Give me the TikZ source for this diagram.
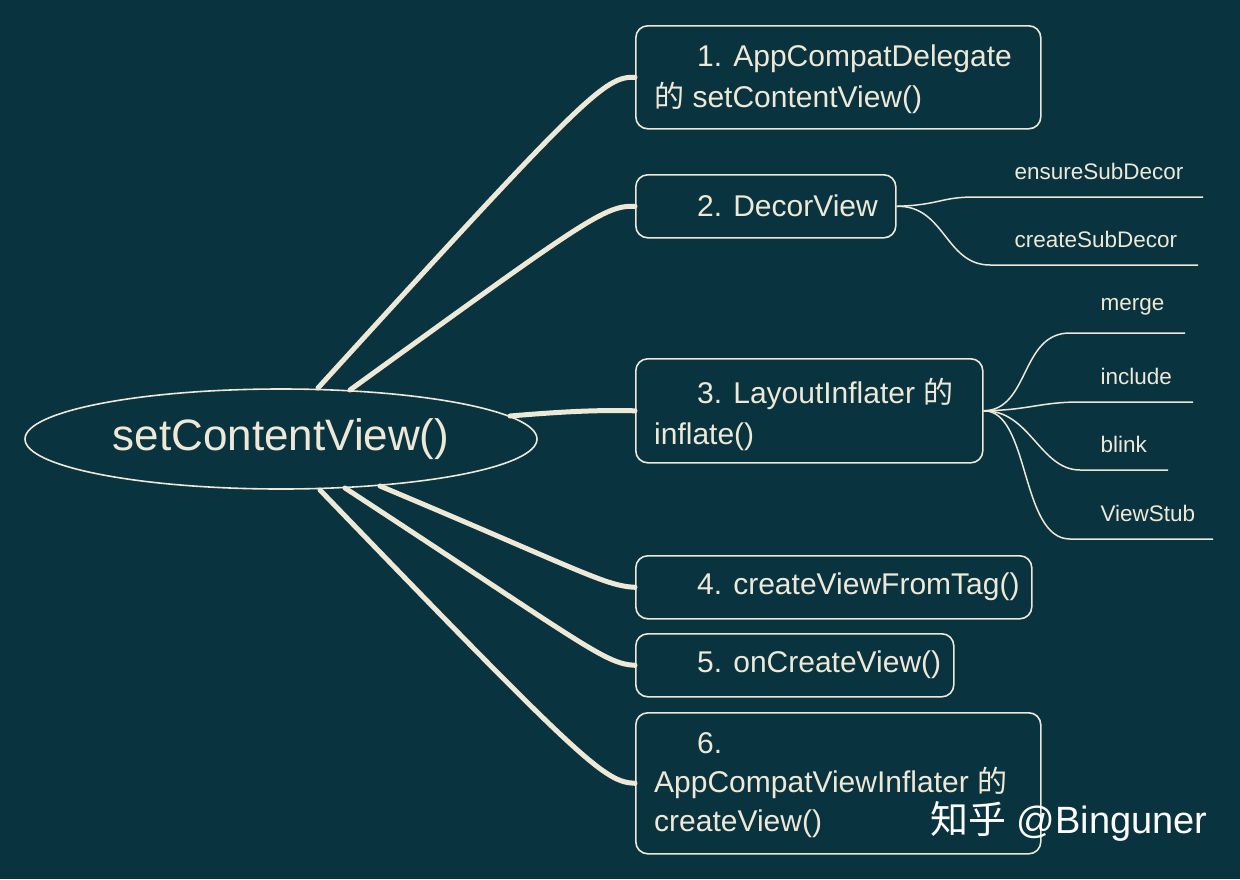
\documentclass[tikz,border=0pt]{standalone}
\usepackage{fontspec}
\setmainfont{Liberation Sans}
\newfontfamily\cjk{Noto Sans CJK SC}
\usetikzlibrary{shapes.geometric}
\definecolor{bg}{HTML}{0A3340}
\definecolor{ln}{HTML}{EEE8D6}
\tikzset{
  box/.style={draw=ln, line width=1.6pt, rounded corners=12pt, anchor=north west, inner sep=0pt},
  btxt/.style={text=ln, font=\fontsize{30}{41}\selectfont, align=left, inner sep=0pt},
  conn/.style={draw=ln, line width=5pt, line cap=round},
  sub/.style={draw=ln, line width=1.5pt},
  lab/.style={text=ln, font=\fontsize{22.5}{26}\selectfont, anchor=south west}
}
\begin{document}
\begin{tikzpicture}[x=1pt,y=-1pt]
\fill[bg] (0,0) rectangle (1240,879);
\useasboundingbox (0,0) rectangle (1240,879);
\node[ellipse, draw=ln, line width=1.6pt, minimum width=512pt, minimum height=100pt, text=ln, font=\fontsize{44}{50}\selectfont] (e) at (281,439) {setContentView()};
\node[box, minimum width=405pt, minimum height=103pt] (b1) at (635,25) {};
\node[btxt, anchor=north west] (t1) at (654,45) {\hspace*{43pt}1. AppCompatDelegate\\{\cjk 的} setContentView()};
\node[box, minimum width=260pt, minimum height=63pt] (b2) at (635,174) {};
\node[btxt, anchor=west] (t2) at (697,206) {2. DecorView};
\node[box, minimum width=347pt, minimum height=104pt] (b3) at (635,358) {};
\node[btxt, anchor=north west] (t3) at (654,378) {\hspace*{43pt}3. LayoutInflater {\cjk 的}\\inflate()};
\node[box, minimum width=396pt, minimum height=63pt] (b4) at (635,555) {};
\node[btxt, anchor=west] (t4) at (697,587) {4. createViewFromTag()};
\node[box, minimum width=318pt, minimum height=63pt] (b5) at (635,633) {};
\node[btxt, anchor=west] (t5) at (697,665) {5. onCreateView()};
\node[box, minimum width=405pt, minimum height=141pt] (b6) at (635,712) {};
\node[btxt, anchor=north west, font=\fontsize{30}{39}\selectfont] (t6) at (654,732) {\hspace*{43pt}6.\\AppCompatViewInflater {\cjk 的}\\createView()};
\coordinate (s1) at (318,388);
\coordinate (s2) at (350,390);
\coordinate (s3) at (510,416);
\coordinate (s4) at (380,486);
\coordinate (s5) at (345,488);
\coordinate (s6) at (320,490);
\draw[conn] (s1) .. controls (585,95) and (605,76) .. (b1.west);
\draw[conn] (s2) .. controls (585,220) and (605,205) .. (b2.west);
\draw[conn] (s3) .. controls (570,411) and (600,410) .. (b3.west);
\draw[conn] (s4) .. controls (580,570) and (605,586) .. (b4.west);
\draw[conn] (s5) .. controls (585,645) and (605,664) .. (b5.west);
\draw[conn] (s6) .. controls (585,765) and (605,782) .. (b6.west);
% DecorView branches
\coordinate (d1) at (1203,197);
\coordinate (d2) at (1198,265);
\draw[sub] (b2.east) .. controls (940,205) and (940,197) .. (975,197) -- (d1);
\draw[sub] (b2.east) .. controls (945,205) and (945,265) .. (990,265) -- (d2);
\node[lab] (l1) at (1011,183) {ensureSubDecor};
\node[lab] (l2) at (1011,251) {createSubDecor};
% inflate branches
\coordinate (m1) at (1185,333);
\coordinate (m2) at (1193,402);
\coordinate (m3) at (1168,470);
\coordinate (m4) at (1213,539);
\draw[sub] (b3.east) .. controls (1030,410) and (1020,333) .. (1070,333) -- (m1);
\draw[sub] (b3.east) .. controls (1030,410) and (1040,402) .. (1080,402) -- (m2);
\draw[sub] (b3.east) .. controls (1030,410) and (1040,470) .. (1080,470) -- (m3);
\draw[sub] (b3.east) .. controls (1030,410) and (1020,539) .. (1070,539) -- (m4);
\node[lab] (n1) at (1097,319) {merge};
\node[lab] (n2) at (1097,388) {include};
\node[lab] (n3) at (1097,456) {blink};
\node[lab] (n4) at (1097,525) {ViewStub};
\node[text=white, font=\fontsize{38}{44}\selectfont, anchor=west, inner sep=0pt] (wm) at (930,821) {{\cjk 知乎} @Binguner};
\end{tikzpicture}
\end{document}
